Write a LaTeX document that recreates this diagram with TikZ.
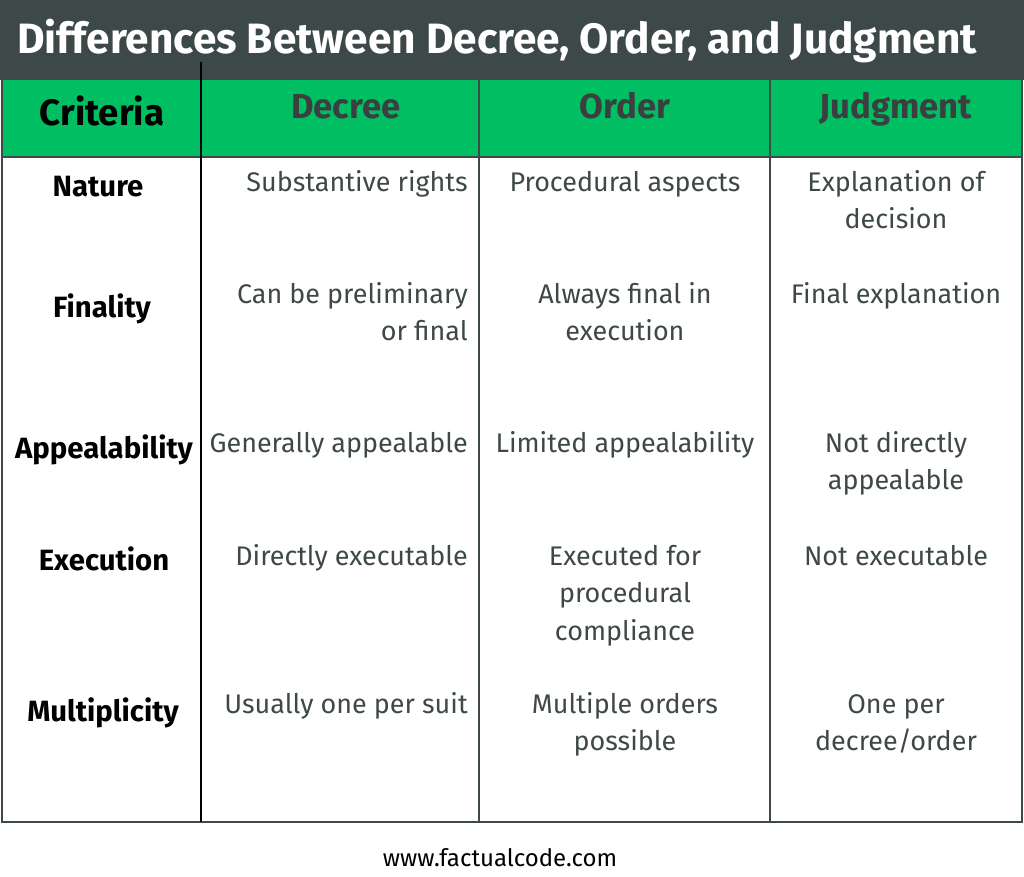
\documentclass[tikz,border=0pt]{standalone}
\usepackage{fontspec}
\setmainfont{Fira Sans}
\definecolor{titlebar}{HTML}{3D4848}
\definecolor{headgreen}{HTML}{00BF63}
\definecolor{framegray}{HTML}{3D4A48}
\definecolor{celltext}{HTML}{3F4848}
\definecolor{headtext}{HTML}{3B3F3F}
\tikzset{
  cell/.style={inner sep=0pt, text=celltext, align=center, font=\fontsize{20.2}{28.1}\selectfont},
  crit/.style={inner sep=0pt, anchor=base, text=black, font=\fontsize{22}{28}\selectfont\bfseries},
  head/.style={inner sep=0pt, anchor=base, text=headtext, font=\fontsize{26}{28}\selectfont\bfseries},
  rule/.style={draw=framegray, line width=1.5pt}
}
\begin{document}
\begin{tikzpicture}[x=0.75pt, y=-0.75pt]
  \useasboundingbox (0,0) rectangle (1024,876);
  %title bar and header band
  \fill[titlebar] (0,0) rectangle (1024,80);
  \fill[headgreen] (2,80) rectangle (1022,157);
  \node[anchor=base west, inner sep=0pt, text=white, font=\fontsize{31.8}{34}\selectfont\bfseries]
    (title) at (17,53) {Differences Between Decree, Order, and Judgment};

  %grid
  \draw[rule, line width=2.2pt] (2,80) -- (2,822) -- (1022,822) -- (1022,80);
  \draw[rule] (2,157) -- (1022,157);
  \foreach \x in {479, 770}{
    \draw[rule] (\x,80) -- (\x,822);
  }
  \draw[black, line width=1.5pt] (201,62) -- (201,822);

  %header row
  \node[crit, font=\fontsize{27.5}{30}\selectfont\bfseries] (hcrit) at (102,125) {Criteria};
  \node[head] (hdecree) at (346,118) {Decree};
  \node[head] (horder) at (625,118) {Order};
  \node[head] (hjudg) at (896,118) {Judgment};

  %criteria column
  \node[crit] (nature) at (98,196) {Nature};
  \node[crit] (finality) at (102,317) {Finality};
  \node[crit] (appeal) at (104,458) {Appealability};
  \node[crit] (exec) at (104,570) {Execution};
  \node[crit] (multi) at (103,721) {Multiplicity};

  %decree column (base = last line)
  \node[cell, anchor=base east, align=right] (d1) at (468,191) {Substantive rights};
  \node[cell, anchor=base east, align=right] (d2) at (468,340.5) {Can be preliminary\\or final};
  \node[cell, anchor=base east, align=right] (d3) at (468,452) {Generally appealable};
  \node[cell, anchor=base east, align=right] (d4) at (468,565) {Directly executable};
  \node[cell, anchor=base east, align=right] (d5) at (468,713) {Usually one per suit};

  %order column
  \node[cell, anchor=base] (o1) at (625,191) {Procedural aspects};
  \node[cell, anchor=base] (o2) at (625,340.5) {Always final in\\execution};
  \node[cell, anchor=base] (o3) at (625,452) {Limited appealability};
  \node[cell, anchor=base] (o4) at (625,640) {Executed for\\procedural\\compliance};
  \node[cell, anchor=base] (o5) at (625,750.5) {Multiple orders\\possible};

  %judgment column
  \node[cell, anchor=base] (j1) at (896,228.5) {Explanation of\\decision};
  \node[cell, anchor=base] (j2) at (896,303) {Final explanation};
  \node[cell, anchor=base] (j3) at (896,489.5) {Not directly\\appealable};
  \node[cell, anchor=base] (j4) at (896,565) {Not executable};
  \node[cell, anchor=base] (j5) at (896,750.5) {One per\\decree/order};

  %footer
  \node[anchor=base, inner sep=0pt, font=\fontsize{18}{20}\selectfont] (site) at (500,866) {www.factualcode.com};
\end{tikzpicture}
\end{document}
